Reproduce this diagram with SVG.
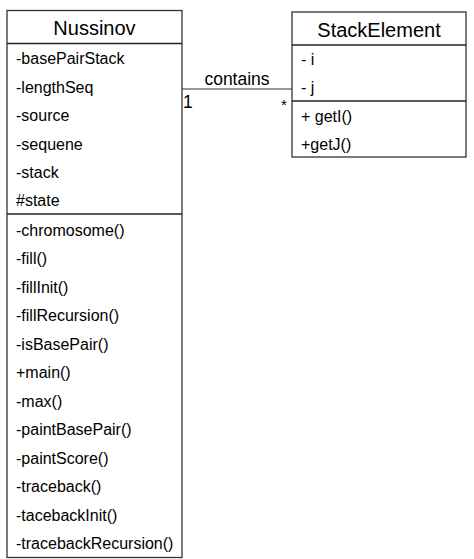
<svg xmlns="http://www.w3.org/2000/svg" width="474" height="559" viewBox="0 0 474 559">
<style>
.box{fill:#fff;stroke:#333;stroke-width:1.3}
.div{stroke:#222;stroke-width:1.3}
.title{font-family:"Liberation Sans",Arial,sans-serif;font-size:20px;fill:#000;text-anchor:middle}
.item{font-family:"Liberation Sans",Arial,sans-serif;font-size:16px;fill:#000}
.conn{stroke:#333;stroke-width:1.2;fill:none}
.lbl{font-family:"Liberation Sans",Arial,sans-serif;font-size:17.5px;fill:#000}
</style>
<rect width="474" height="559" fill="#fff"/>
<g id="connectors">
<line class="conn" x1="182" y1="89" x2="292" y2="89"/>
<text class="lbl" x="237" y="85" text-anchor="middle">contains</text>
<text class="lbl" x="183" y="108">1</text>
<text class="lbl" x="281" y="110" style="font-size:15px">*</text>
</g>
<g id="Nussinov">
<rect class="box" x="7" y="10.5" width="175" height="547"/>
<line class="div" x1="7" y1="43.5" x2="182" y2="43.5"/>
<line class="div" x1="7" y1="214" x2="182" y2="214"/>
<text class="title" x="94.5" y="35">Nussinov</text>
<text class="item" x="16" y="64">-basePairStack</text>
<text class="item" x="16" y="92.5">-lengthSeq</text>
<text class="item" x="16" y="121">-source</text>
<text class="item" x="16" y="149.5">-sequene</text>
<text class="item" x="16" y="178">-stack</text>
<text class="item" x="16" y="206">#state</text>
<text class="item" x="16" y="235.5">-chromosome()</text>
<text class="item" x="16" y="264">-fill()</text>
<text class="item" x="16" y="292.5">-fillInit()</text>
<text class="item" x="16" y="321">-fillRecursion()</text>
<text class="item" x="16" y="349.5">-isBasePair()</text>
<text class="item" x="16" y="378">+main()</text>
<text class="item" x="16" y="406.5">-max()</text>
<text class="item" x="16" y="435">-paintBasePair()</text>
<text class="item" x="16" y="463.5">-paintScore()</text>
<text class="item" x="16" y="492">-traceback()</text>
<text class="item" x="16" y="520.5">-tacebackInit()</text>
<text class="item" x="16" y="549">-tracebackRecursion()</text>
</g>
<g id="StackElement">
<rect class="box" x="292" y="12" width="174" height="145"/>
<line class="div" x1="292" y1="45" x2="466" y2="45"/>
<line class="div" x1="292" y1="101" x2="466" y2="101"/>
<text class="title" x="379" y="37">StackElement</text>
<text class="item" x="301" y="64.5">- i</text>
<text class="item" x="301" y="93">- j</text>
<text class="item" x="301" y="121.5">+ getI()</text>
<text class="item" x="301" y="150">+getJ()</text>
</g>
</svg>
